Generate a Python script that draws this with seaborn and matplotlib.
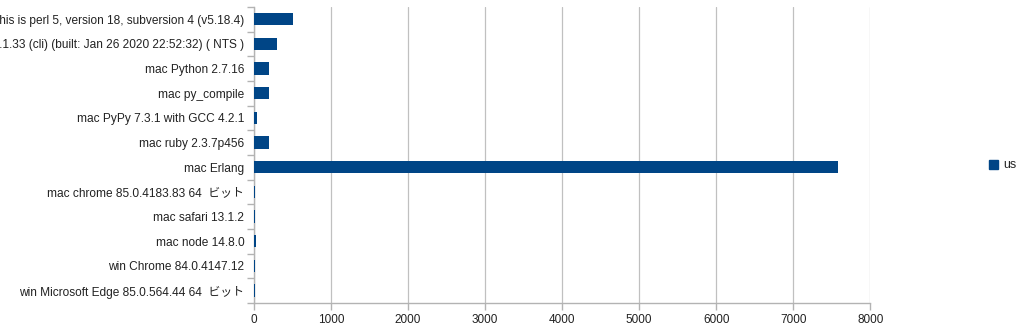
import matplotlib
matplotlib.use("Agg")
import matplotlib.pyplot as plt
import seaborn as sns
import pandas as pd
from matplotlib.patches import Patch

categories = [
    "This is perl 5, version 18, subversion 4 (v5.18.4)",
    "mac PHP 7.1.33 (cli) (built: Jan 26 2020 22:52:32) ( NTS )",
    "mac Python 2.7.16",
    "mac py_compile",
    "mac PyPy 7.3.1 with GCC 4.2.1",
    "mac ruby 2.3.7p456",
    "mac Erlang",
    "mac chrome 85.0.4183.83 64  ビット",
    "mac safari 13.1.2",
    "mac node 14.8.0",
    "win Chrome 84.0.4147.12",
    "win Microsoft Edge 85.0.564.44 64  ビット",
]
us = [506, 300, 195, 195, 35, 195, 7580, 16, 14, 28, 16, 16]
xticks = [0, 1000, 2000, 3000, 4000, 5000, 6000, 7000, 8000]

df = pd.DataFrame({"label": categories, "us": us})

sns.set_style("white")
plt.rcParams["font.family"] = ["Liberation Sans", "Noto Sans CJK JP", "DejaVu Sans"]

fig = plt.figure(figsize=(10.24, 3.31), dpi=100)
ax = fig.add_axes([0.248, 0.085, 0.602, 0.894])
color = "#004586"
sns.barplot(data=df, y="label", x="us", color=color, width=0.5, ax=ax,
            saturation=1, orient="h", linewidth=0)
for p in ax.patches:
    p.set_zorder(3)

ax.set_xlim(0, 8000)
ax.set_xticks(xticks)
ax.set_xticklabels([str(t) for t in xticks], fontsize=8.5, color="#222222")
ax.set_ylim(len(categories) - 0.5, -0.5)
ax.set_yticks(range(len(categories)))
ax.set_yticklabels(categories, fontsize=8.6, color="#222222")
ax.tick_params(axis="both", which="both", left=True, bottom=True)
ax.tick_params(axis="y", which="major", length=0, pad=7)
ax.set_yticks([i - 0.5 for i in range(len(categories) + 1)], minor=True)
ax.tick_params(axis="y", which="minor", length=5, color="#b3b3b3", width=1)
ax.tick_params(axis="x", length=5, color="#b3b3b3", width=1, pad=3)
ax.set_xlabel("")
ax.set_ylabel("")
ax.grid(axis="x", color="#c0c0c0", linewidth=0.9)
ax.set_axisbelow(True)
for s in ["top", "right"]:
    ax.spines[s].set_visible(False)
for s in ["left", "bottom"]:
    ax.spines[s].set_color("#b3b3b3")
    ax.spines[s].set_linewidth(1)

handle = Patch(facecolor=color, edgecolor=color, label="us")
fig.legend(handles=[handle], labels=["us"], loc="center left",
           bbox_to_anchor=(0.955, 0.5), frameon=False, fontsize=9,
           handlelength=0.7, handleheight=0.7, handletextpad=0.4)

fig.savefig("out.png", dpi=100)
